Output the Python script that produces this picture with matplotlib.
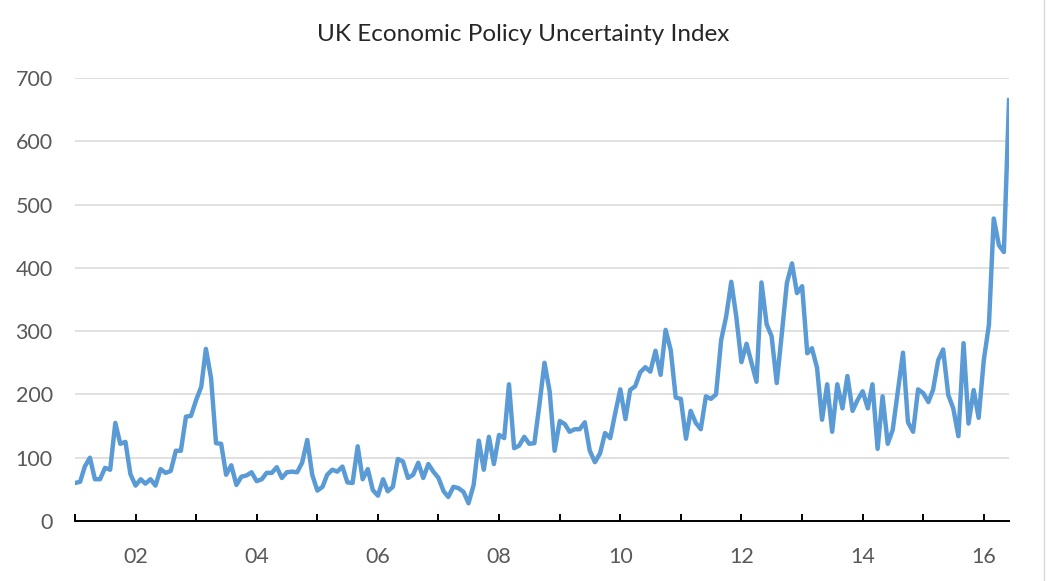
import pandas as pd
import matplotlib
matplotlib.use("Agg")
import matplotlib.pyplot as plt
import matplotlib.dates as mdates
from matplotlib.ticker import FuncFormatter
from matplotlib.lines import Line2D

plt.rcParams["font.family"] = ["Lato", "DejaVu Sans"]

# monthly index values, Jan 2001 - Jun 2016
y2001 = [60, 62, 86, 100, 66, 66, 84, 81, 155, 122, 125, 74]
y2002 = [56, 66, 59, 66, 56, 82, 76, 79, 111, 111, 165, 166]
y2003 = [191, 212, 272, 226, 123, 122, 73, 88, 57, 70, 72, 77]
y2004 = [63, 66, 76, 76, 85, 68, 77, 78, 77, 92, 128, 73]
y2005 = [48, 54, 73, 81, 78, 86, 61, 60, 118, 66, 82, 49]
y2006 = [40, 66, 47, 54, 98, 94, 68, 73, 92, 68, 90, 78]
y2007 = [68, 47, 38, 54, 52, 46, 28, 57, 127, 81, 133, 90]
y2008 = [136, 131, 216, 115, 119, 133, 122, 123, 185, 250, 205, 111]
y2009 = [158, 153, 141, 145, 145, 156, 111, 93, 107, 139, 131, 170]
y2010 = [208, 161, 207, 213, 235, 243, 236, 269, 231, 302, 270, 195]
y2011 = [193, 130, 174, 155, 145, 197, 193, 200, 286, 323, 378, 323]
y2012 = [251, 280, 251, 220, 377, 311, 292, 218, 297, 376, 407, 360]
y2013 = [371, 265, 273, 242, 160, 216, 141, 216, 178, 229, 174, 191]
y2014 = [205, 178, 216, 114, 197, 122, 144, 205, 266, 156, 141, 208]
y2015 = [202, 188, 207, 254, 271, 199, 178, 134, 281, 154, 207, 163]
y2016 = [254, 310, 478, 436, 425, 665]

values = (y2001 + y2002 + y2003 + y2004 + y2005 + y2006 + y2007 + y2008
          + y2009 + y2010 + y2011 + y2012 + y2013 + y2014 + y2015 + y2016)
dates = pd.date_range("2001-01-01", periods=len(values), freq="MS")

title = "UK Economic Policy Uncertainty Index"
grey = "#595959"

fig = plt.figure(figsize=(10.47, 5.81), dpi=100)
ax = fig.add_axes([75 / 1047, 60 / 581, 934 / 1047, 443 / 581])

ax.plot(dates, values, color="#5B9BD5", linewidth=3.2, solid_joinstyle="round")

ax.set_ylim(0, 700)
ax.set_yticks(range(0, 701, 100))
ax.set_xlim(dates[0], dates[-1])
ax.grid(axis="y", color="#D9D9D9", linewidth=1.1)
ax.set_axisbelow(True)

ax.xaxis.set_major_locator(mdates.YearLocator(1))
ax.xaxis.set_major_formatter(FuncFormatter(
    lambda v, pos: mdates.num2date(v).strftime("%y") if mdates.num2date(v).year % 2 == 0 else ""))

for s in ["top", "right", "left"]:
    ax.spines[s].set_visible(False)
ax.spines["bottom"].set_color("black")
ax.spines["bottom"].set_linewidth(1.4)

ax.tick_params(axis="x", direction="in", length=5, width=1.4, color="black",
               labelsize=15.5, labelcolor=grey, pad=19)
ax.tick_params(axis="y", length=0, labelsize=15.5, labelcolor=grey, pad=16)

fig.suptitle(title, x=0.5, y=0.958, fontsize=17.5, color="#262626")

# light chart border at the right edge
fig.add_artist(Line2D([1044 / 1047, 1044 / 1047], [0, 1], color="#D9D9D9", linewidth=1.0))

fig.savefig("out.png", dpi=100)
